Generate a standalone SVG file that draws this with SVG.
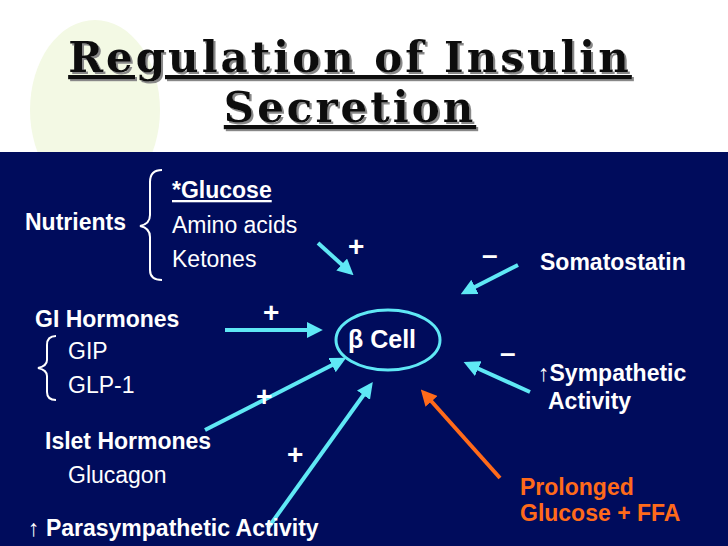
<svg xmlns="http://www.w3.org/2000/svg" width="728" height="546" viewBox="0 0 728 546">
<defs>
<marker id="ac" viewBox="0 0 10 10" refX="7" refY="5" markerWidth="4" markerHeight="4" orient="auto"><path d="M0,0 L10,5 L0,10 z" fill="#5fe8f5"/></marker>
<marker id="ao" viewBox="0 0 10 10" refX="7" refY="5" markerWidth="4" markerHeight="4" orient="auto"><path d="M0,0 L10,5 L0,10 z" fill="#ff6a1a"/></marker>
<filter id="sh" x="-10%" y="-20%" width="120%" height="150%"><feDropShadow dx="2" dy="2" stdDeviation="0.6" flood-color="#888"/></filter>
</defs>
<style>
.t{font-family:"Liberation Sans",Arial,sans-serif;font-size:23px;fill:#fff}
.b{font-weight:bold}
.s{font-family:"Liberation Sans",Arial,sans-serif;font-size:28px;font-weight:bold;fill:#fff}
.c{stroke:#5fe8f5;stroke-width:4;fill:none;marker-end:url(#ac)}
.br{stroke:#fff;stroke-width:2;fill:none}
.ti{font-family:"DejaVu Serif",serif;font-size:42px;font-weight:bold;fill:#111;text-decoration:underline;text-anchor:middle;letter-spacing:3px;filter:url(#sh)}
</style>
<rect width="728" height="546" fill="#fff"/>
<ellipse cx="95" cy="110" rx="65" ry="90" fill="#f3f9e4"/>
<g id="title">
<text class="ti" x="350" y="72">Regulation of Insulin</text>
<text class="ti" x="350" y="122">Secretion</text>
</g>
<rect y="152" width="728" height="394" fill="#000c5c"/>
<g id="connectors">
<line class="c" x1="318" y1="243" x2="350" y2="272"/>
<line class="c" x1="518" y1="265" x2="465" y2="292"/>
<line class="c" x1="225" y1="330" x2="318" y2="330"/>
<line class="c" x1="205" y1="430" x2="342" y2="360"/>
<line class="c" x1="268" y1="528" x2="370" y2="386"/>
<line class="c" x1="530" y1="392" x2="468" y2="364"/>
<line x1="500" y1="478" x2="424" y2="393" stroke="#ff6a1a" stroke-width="4" marker-end="url(#ao)"/>
<text class="s" x="348" y="256">+</text>
<text class="s" x="263" y="322">+</text>
<text class="s" x="256" y="406">+</text>
<text class="s" x="287" y="464">+</text>
<text class="s" x="482" y="264">–</text>
<text class="s" x="500" y="362">–</text>
</g>
<g id="nutrients">
<text class="t b" x="25" y="230">Nutrients</text>
<path class="br" d="M162,170 Q150,170 150,182 L150,215 Q150,224 140,226 Q150,228 150,237 L150,270 Q150,280 162,280"/>
<text class="t b" x="172" y="198" text-decoration="underline">*Glucose</text>
<text class="t" x="172" y="233">Amino acids</text>
<text class="t" x="172" y="267">Ketones</text>
</g>
<g id="somatostatin"><text class="t b" x="540" y="270">Somatostatin</text></g>
<g id="gi">
<text class="t b" x="35" y="327">GI Hormones</text>
<path class="br" d="M56,336 Q47,336 47,345 L47,360 Q47,366 38,368 Q47,370 47,376 L47,392 Q47,400 56,400"/>
<text class="t" x="68" y="359">GIP</text>
<text class="t" x="68" y="393">GLP-1</text>
</g>
<g id="beta">
<ellipse cx="388" cy="340" rx="52" ry="30" fill="none" stroke="#5fe8f5" stroke-width="3"/>
<text class="t b" x="348" y="348" style="font-size:25px">β Cell</text>
</g>
<g id="sym">
<text class="t b" x="538" y="381">↑Sympathetic</text>
<text class="t b" x="548" y="409">Activity</text>
</g>
<g id="islet">
<text class="t b" x="45" y="449">Islet Hormones</text>
<text class="t" x="68" y="483">Glucagon</text>
</g>
<g id="para"><text class="t b" x="28" y="536">↑ Parasympathetic Activity</text></g>
<g id="prolonged">
<text class="t b" x="520" y="495" style="fill:#ff6a1a">Prolonged</text>
<text class="t b" x="520" y="521" style="fill:#ff6a1a">Glucose + FFA</text>
</g>
</svg>
